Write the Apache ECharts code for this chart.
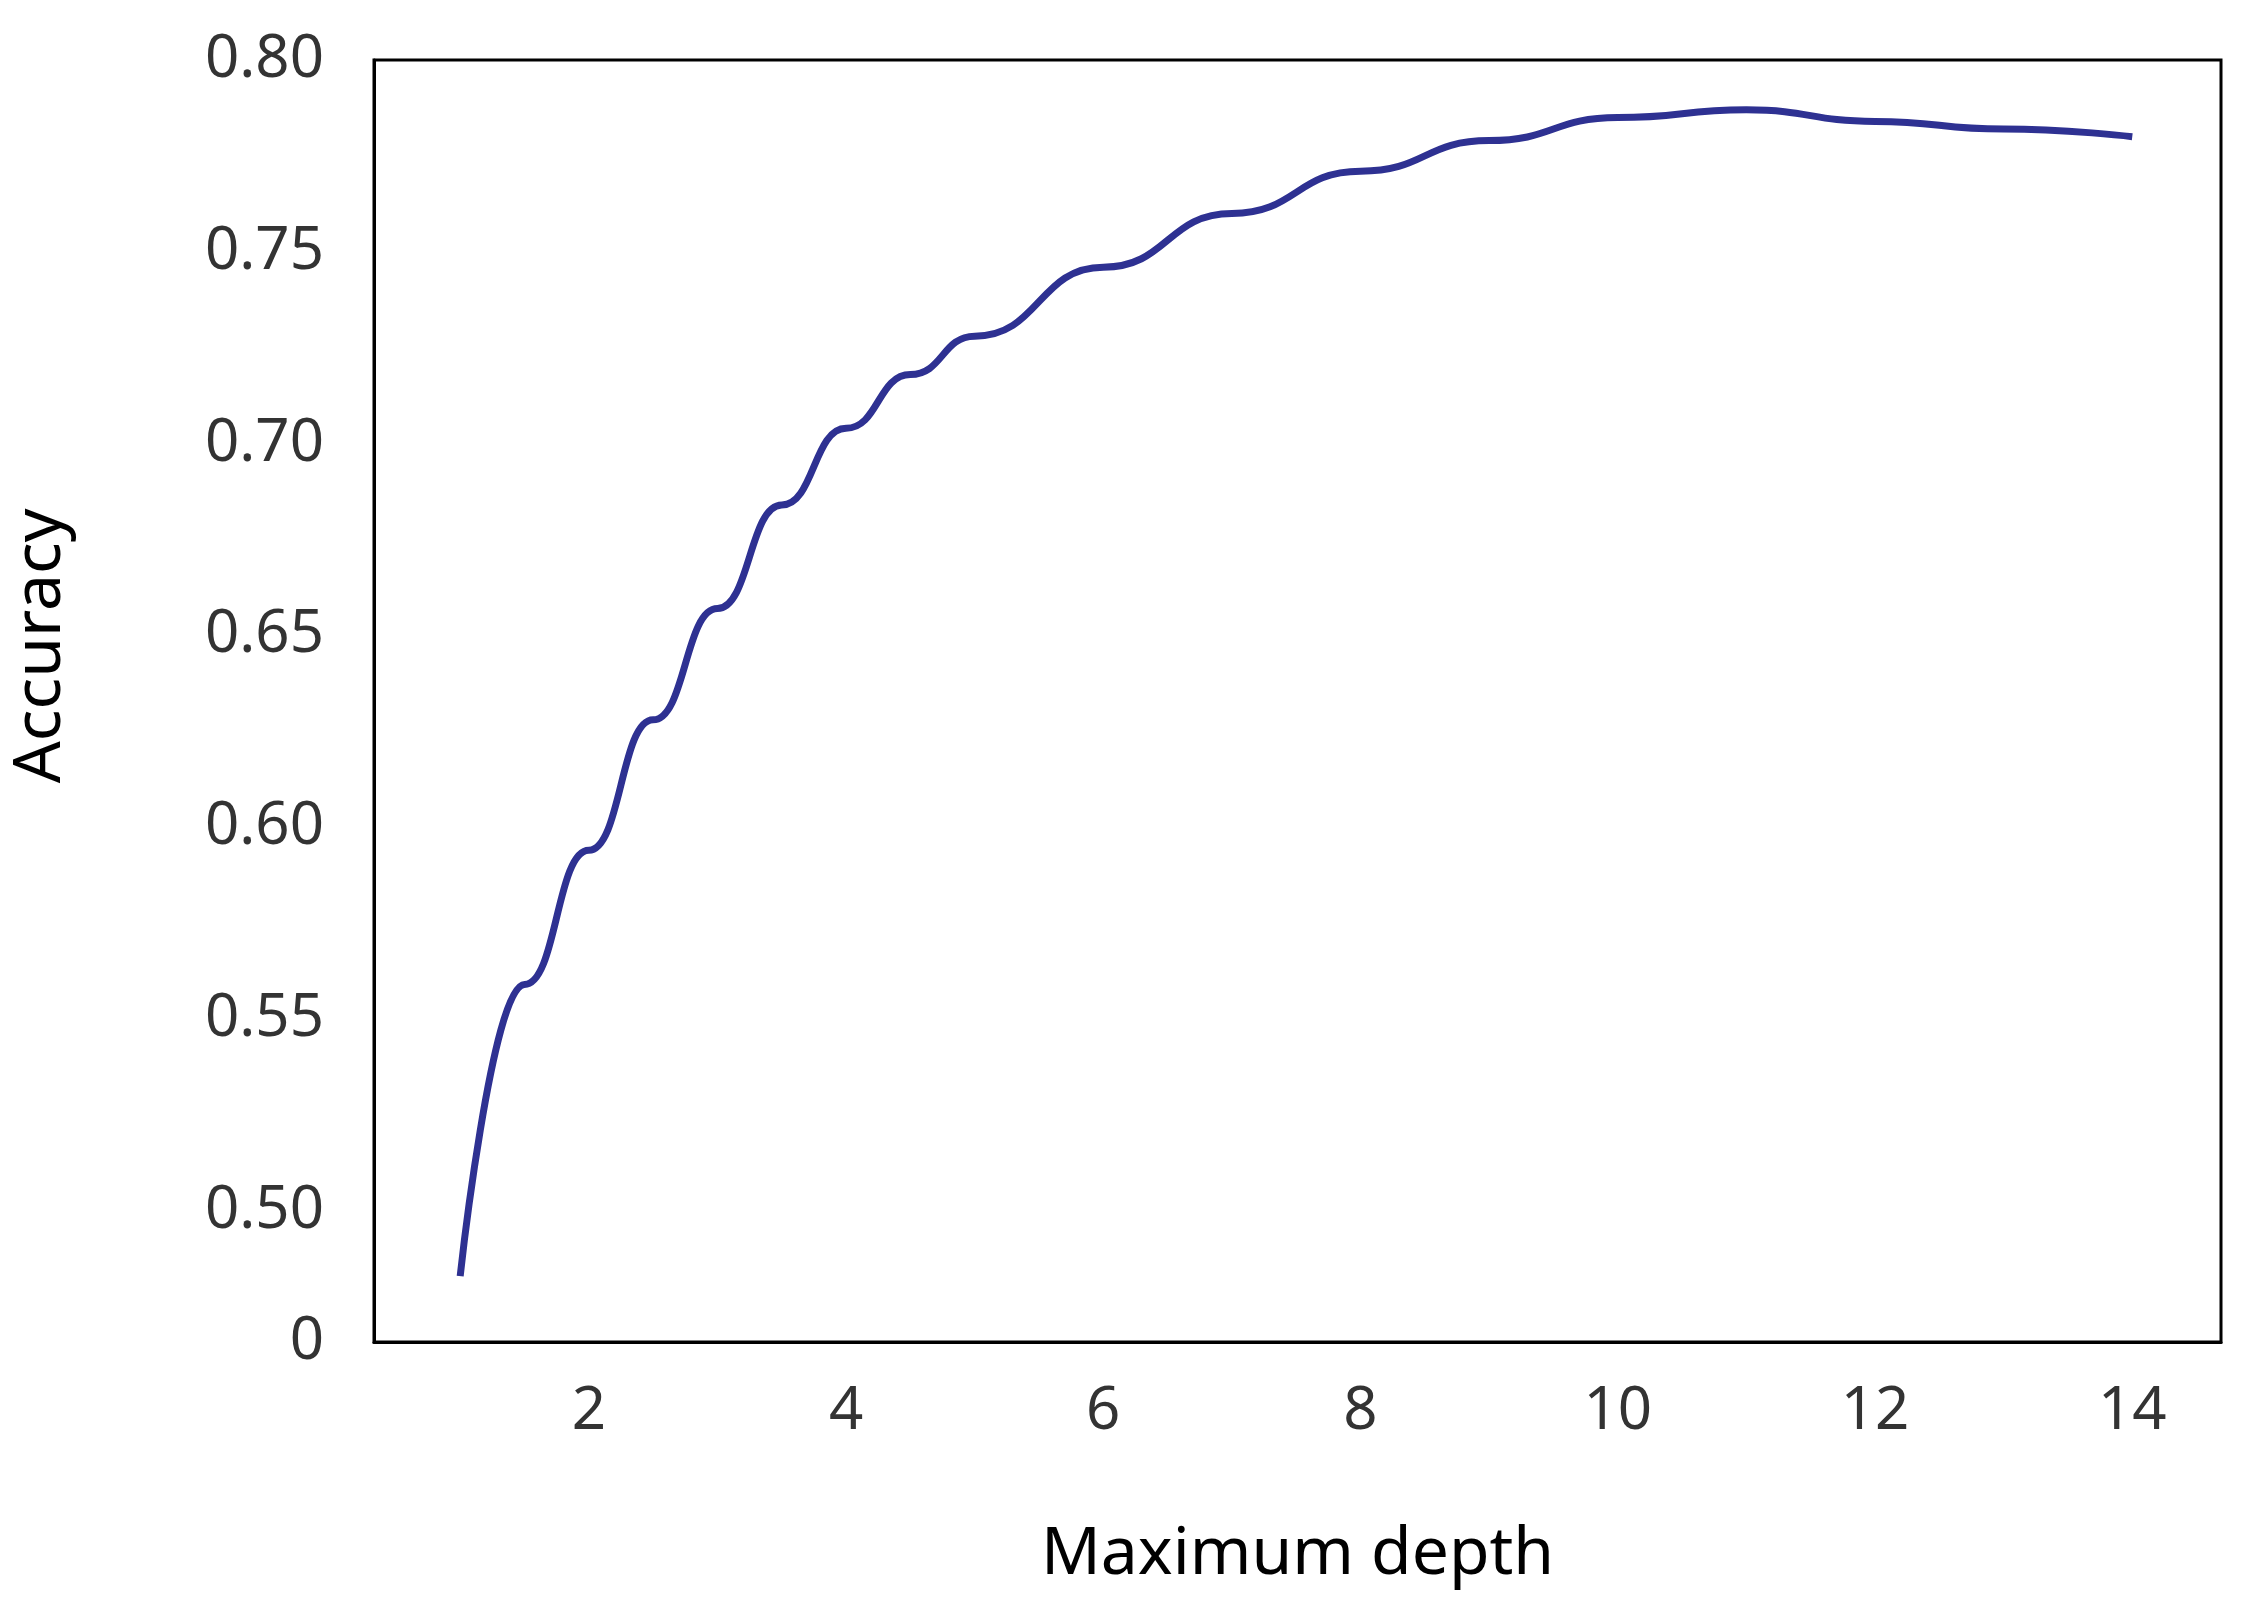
<!DOCTYPE html>
<html>
<head>
<meta charset="utf-8">
<script src="https://cdn.jsdelivr.net/npm/echarts@6/dist/echarts.min.js"></script>
<style>html,body{margin:0;background:#fff}.chart{width:2247px;height:1617px}</style>
</head>
<body>
<div class="chart"></div>
<script>
// 数据
var depths = [1, 1.5, 2, 2.5, 3, 3.5, 4, 4.5, 5, 6, 7, 8, 9, 10, 11, 12, 13, 14];
var accuracy = [0.483, 0.559, 0.594, 0.628, 0.657, 0.684, 0.704, 0.718, 0.728, 0.746, 0.760, 0.771, 0.779, 0.785, 0.787, 0.784, 0.782, 0.780];
var xTicks = [2, 4, 6, 8, 10, 12, 14];
var yTicks = [0.4658, 0.50, 0.55, 0.60, 0.65, 0.70, 0.75, 0.80];

var chart = echarts.init(document.getElementsByClassName("chart")[0]);

var labelFont = { fontSize: 60, color: '#333', fontFamily: 'Noto Sans' };

var option = {
  animation: false,
  grid: { left: 370, right: 26, top: 60, bottom: 275, show: true, borderColor: '#000', borderWidth: 3 },
  xAxis: {
    type: 'value', min: 0.33, max: 14.69,
    name: 'Maximum depth', nameLocation: 'middle', nameGap: 180,
    nameTextStyle: { fontSize: 66, color: '#000', fontFamily: 'Noto Sans' },
    axisLine: { show: true, lineStyle: { color: '#000', width: 3 } },
    axisTick: { show: false },
    splitLine: { show: false },
    axisLabel: Object.assign({ customValues: xTicks, margin: 40 }, labelFont)
  },
  yAxis: {
    type: 'value', min: 0.4658, max: 0.80,
    name: 'Accuracy', nameLocation: 'middle', nameGap: 300,
    nameTextStyle: { fontSize: 66, color: '#000', fontFamily: 'Noto Sans', padding: [0, 0, 0, 110] },
    axisLine: { show: true, lineStyle: { color: '#000', width: 3 } },
    axisTick: { show: false },
    splitLine: { show: false },
    axisLabel: Object.assign({
      customValues: yTicks, margin: 50,
      formatter: function (v) { return v < 0.49 ? '0' : v.toFixed(2); }
    }, labelFont)
  },
  series: [{
    type: 'line', smooth: 0.5, smoothMonotone: 'x', showSymbol: false,
    data: depths.map(function (d, i) { return [d, accuracy[i]]; }),
    lineStyle: { color: '#2e3192', width: 7 }
  }]
};

chart.setOption(option);
</script>
</body>
</html>
